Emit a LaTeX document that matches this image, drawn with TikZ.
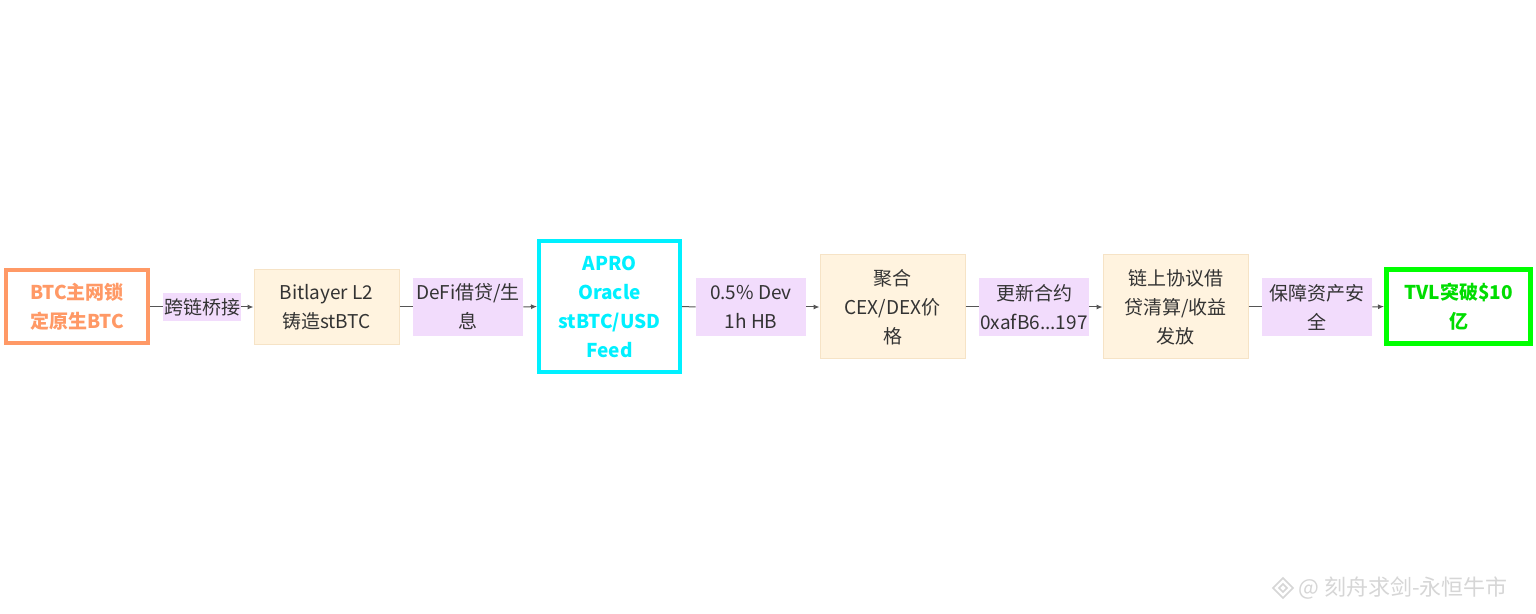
\documentclass[tikz,border=0pt]{standalone}
\usepackage{fontspec}
\newfontfamily\cjk{Noto Sans CJK SC}
\usetikzlibrary{arrows.meta,positioning}
\definecolor{txt}{HTML}{333333}
\definecolor{orng}{HTML}{FF9966}
\definecolor{cyn}{HTML}{00F0FF}
\definecolor{grn}{HTML}{00FF00}
\definecolor{grntxt}{HTML}{00DD00}
\definecolor{lblfill}{HTML}{F2DCFC}
\definecolor{boxfill}{HTML}{FFF3DF}
\definecolor{boxline}{HTML}{F6E3C6}
\definecolor{edge}{HTML}{555555}
\definecolor{wm}{HTML}{D6D6D6}
\tikzset{
  base/.style={font=\cjk\fontsize{9.5pt}{14.5pt}\selectfont, align=center, inner sep=0pt, text=txt},
  bold/.style={font=\cjk\fontsize{9.5pt}{14.5pt}\selectfont\bfseries},
  lbl/.style={base, fill=lblfill},
  softbox/.style={base, fill=boxfill, draw=boxline, line width=0.5pt, minimum width=72.5pt},
  link/.style={draw=edge, line width=0.5pt},
  arr/.style={link, -{Latex[length=3pt,width=2.5pt]}},
}
\begin{document}
\begin{tikzpicture}[x=0.5pt,y=-0.5pt]
\useasboundingbox[fill=white] (0,0) rectangle (1536,614);
\node[base, bold, draw=orng, line width=2pt, text=orng, minimum width=71pt, minimum height=36.5pt] (btc) at (77,307) {BTC主网锁\\定原生BTC};
\node[lbl, minimum width=39pt, minimum height=14pt] (l1) at (202,307) {跨链桥接};
\node[softbox, minimum height=37.5pt] (bit) at (326.5,307) {Bitlayer L2\\铸造stBTC};
\node[lbl, minimum width=55pt, minimum height=29pt] (l2) at (468,307) {DeFi借贷/生\\息};
\node[base, bold, draw=cyn, line width=2pt, text=cyn, minimum width=70.5pt, minimum height=65.5pt] (apro) at (609.5,306.5) {APRO\\Oracle\\stBTC/USD\\Feed};
\node[lbl, minimum width=55pt, minimum height=29pt] (l3) at (751,307) {0.5\% Dev\\1h HB};
\node[softbox, minimum height=52pt] (agg) at (892.5,307) {聚合\\CEX/DEX价\\格};
\node[lbl, minimum width=55pt, minimum height=29pt] (l4) at (1034,307) {更新合约\\0xafB6...197};
\node[softbox, minimum height=52pt] (chain) at (1175.5,307) {链上协议借\\贷清算/收益\\发放};
\node[lbl, minimum width=55pt, minimum height=29pt] (l5) at (1317,307) {保障资产安\\全};
\node[base, bold, draw=grn, line width=2.5pt, text=grntxt, minimum width=72pt, minimum height=37pt] (tvl) at (1458.5,306.5) {TVL突破\$10\\亿};
\draw[link] (btc.east) -- (l1.west);
\draw[arr] (l1.east) -- (bit.west);
\draw[link] (bit.east) -- (l2.west);
\draw[arr] (l2.east) -- (apro.west);
\draw[link] (apro.east) -- (l3.west);
\draw[arr] (l3.east) -- (agg.west);
\draw[link] (agg.east) -- (l4.west);
\draw[arr] (l4.east) -- (chain.west);
\draw[link] (chain.east) -- (l5.west);
\draw[arr] (l5.east) -- (tvl.west);
% watermark
\begin{scope}[draw=wm, line width=0.8pt]
\draw (1283,578) -- (1293,588) -- (1283,598) -- (1273,588) -- cycle;
\draw (1283,584) -- (1287,588) -- (1283,592) -- (1279,588) -- cycle;
\end{scope}
\node[base, text=wm, font=\cjk\fontsize{11pt}{13pt}\selectfont, anchor=west] (wmark) at (1298,588) {@ 刻舟求剑-永恒牛市};
\end{tikzpicture}
\end{document}
